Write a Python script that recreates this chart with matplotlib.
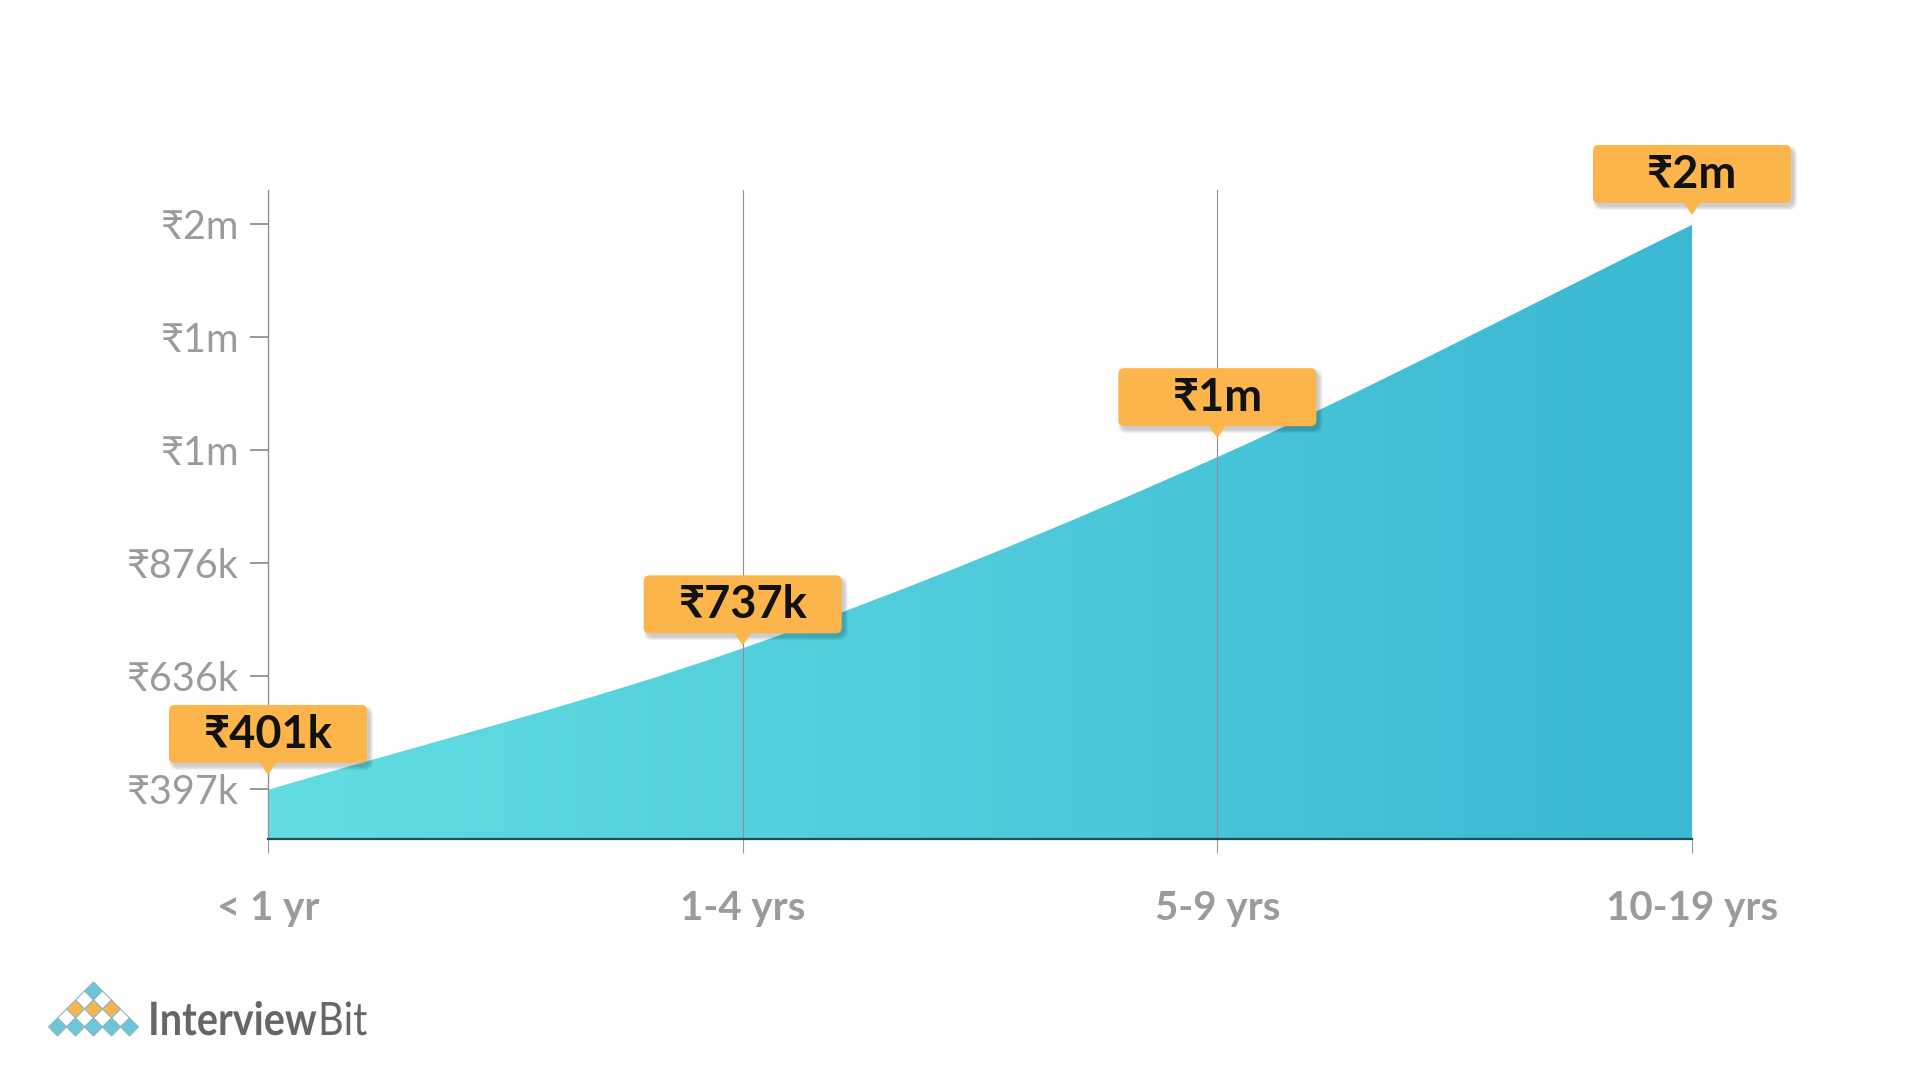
import numpy as np
import matplotlib
matplotlib.use("Agg")
import matplotlib.pyplot as plt
from matplotlib.path import Path
from matplotlib.patches import PathPatch, FancyBboxPatch, Polygon
from matplotlib.textpath import TextPath
from matplotlib.font_manager import FontProperties
import matplotlib.transforms as mtransforms
from matplotlib.colors import LinearSegmentedColormap

plt.rcParams['font.family'] = ['Lato', 'Noto Sans', 'DejaVu Sans']

# ---------------------------------------------------------
# data
# ---------------------------------------------------------
experience = ["< 1 yr", "1-4 yrs", "5-9 yrs", "10-19 yrs"]
salary = [395000, 695000, 1100000, 1592000]          # where the curve sits
salary_labels = ["₹401k", "₹737k", "₹1m", "₹2m"]      # text in the orange boxes
y_ticks = [397000, 636000, 876000, 1115000, 1355000, 1594000]
y_tick_labels = ["₹397k", "₹636k", "₹876k", "₹1m", "₹1m", "₹2m"]
y_range = (291000, 1666000)

# gap (px) between each point and the bottom of its box
box_gaps = [27, 15, 31, 22]

fill_left = "#62dde1"
fill_right = "#3bb8d3"
box_color = "#fbb54b"
grey = "#9b9b9b"

W, H = 1920, 1081
fig = plt.figure(figsize=(W / 100, H / 100), dpi=100)
fig.patch.set_facecolor("white")
ax = fig.add_axes([268 / W, 1 - 839 / H, (1692 - 268) / W, (839 - 190) / H])

x = np.arange(len(experience))
y = np.array(salary, dtype=float)
ax.set_xlim(0, len(experience) - 1)
ax.set_ylim(*y_range)

# smooth line through the points (cubic bezier segments)
slopes = np.zeros(len(x))
slopes[0] = (y[1] - y[0]) / (x[1] - x[0])
slopes[-1] = (y[-1] - y[-2]) / (x[-1] - x[-2])
for i in range(1, len(x) - 1):
    slopes[i] = (y[i + 1] - y[i - 1]) / (x[i + 1] - x[i - 1])

verts = [(x[0], y_range[0]), (x[0], y[0])]
codes = [Path.MOVETO, Path.LINETO]
for i in range(len(x) - 1):
    dx = (x[i + 1] - x[i]) / 3
    verts += [(x[i] + dx, y[i] + slopes[i] * dx),
              (x[i + 1] - dx, y[i + 1] - slopes[i + 1] * dx),
              (x[i + 1], y[i + 1])]
    codes += [Path.CURVE4] * 3
verts += [(x[-1], y_range[0]), (x[0], y_range[0])]
codes += [Path.LINETO, Path.CLOSEPOLY]
area = Path(verts, codes)

# horizontal gradient clipped to the area
cmap = LinearSegmentedColormap.from_list("grad", [fill_left, fill_right])
grad = np.linspace(0, 1, 256).reshape(1, -1)
im = ax.imshow(grad, cmap=cmap, aspect="auto", interpolation="bicubic",
               extent=[x[0], x[-1], y_range[0], y_range[1]], zorder=1)
clip = PathPatch(area, transform=ax.transData, facecolor="none", edgecolor="none")
ax.add_patch(clip)
im.set_clip_path(clip)

# axes styling
for s in ["top", "right"]:
    ax.spines[s].set_visible(False)
ax.spines["left"].set_color("#a8a8a8")
ax.spines["left"].set_linewidth(1.0)
ax.spines["bottom"].set_color("#1f4d58")
ax.spines["bottom"].set_linewidth(1.6)
ax.spines["bottom"].set_zorder(3)

ax.set_xticks(x)
ax.set_xticklabels(experience)
ax.set_yticks(y_ticks)
ax.set_yticklabels(y_tick_labels)
ax.tick_params(axis="x", direction="out", length=10, width=0.8, color="#999999",
               pad=27, labelsize=29, labelcolor=grey)
ax.tick_params(axis="y", direction="out", length=13, width=1.2, color="#888888",
               pad=8, labelsize=28.5, labelcolor=grey)
for lab in ax.get_xticklabels():
    lab.set_fontweight("bold")
ax.grid(axis="x", color="#8f8f8f", linewidth=0.8, zorder=2)
ax.set_axisbelow(False)

# orange value boxes
ident = mtransforms.IdentityTransform()
bw, bh = 198, 58
for xi, yi, lab, gap in zip(x, y, salary_labels, box_gaps):
    px, py = ax.transData.transform((xi, yi))
    bx, by = px - bw / 2, py + gap
    for k in range(4):
        fig.add_artist(FancyBboxPatch((bx + 3 - k, by - 4 - k), bw + 2 * k, bh + 2 * k,
                                      boxstyle="round,pad=0,rounding_size=8",
                                      transform=ident, facecolor="#000000",
                                      edgecolor="none", alpha=0.05))
    fig.add_artist(Polygon([(px - 9, by + 1), (px + 9, by + 1), (px, by - 12)],
                           closed=True, transform=ident, facecolor=box_color,
                           edgecolor="none"))
    fig.add_artist(FancyBboxPatch((bx, by), bw, bh,
                                  boxstyle="round,pad=0,rounding_size=6",
                                  transform=ident, facecolor=box_color,
                                  edgecolor="none"))
    fig.text(px, by + bh / 2 - 1, lab, transform=ident, ha="center", va="center",
             fontsize=32.5, fontweight="bold", color="#111111")

# InterviewBit logo, bottom left
diamond_rows = ["#6cc6d9", "#ffffff", "#f7b54c", "#ffffff", "#6cc6d9"]
h = 9
apex_x, apex_y = 93.5, H - 991
for r, col in enumerate(diamond_rows):
    for k in range(r + 1):
        cx = apex_x + (k - r / 2) * 2 * h
        cy = apex_y - r * h
        fig.add_artist(Polygon([(cx, cy + h), (cx + h, cy), (cx, cy - h), (cx - h, cy)],
                               closed=True, transform=ident, facecolor=col,
                               edgecolor="#8fb7c2", linewidth=0.8))

tp_bold = TextPath((0, 0), "Interview", size=46,
                   prop=FontProperties(family=["Lato", "DejaVu Sans"], weight="bold"))
tp_light = TextPath((0, 0), "Bit", size=46,
                    prop=FontProperties(family=["Lato", "DejaVu Sans"], weight="normal"))
wb = tp_bold.get_extents().x1
wl = tp_light.get_extents().x1
sx = (367 - 148) / (wb + wl + 2)
base_y = H - 1035
fig.add_artist(PathPatch(tp_bold, transform=mtransforms.Affine2D().scale(sx, 1).translate(148, base_y),
                         facecolor="#666666", edgecolor="none"))
fig.add_artist(PathPatch(tp_light, transform=mtransforms.Affine2D().scale(sx, 1).translate(148 + sx * (wb + 2), base_y),
                         facecolor="#666666", edgecolor="none"))

fig.savefig("out.png", dpi=100, facecolor="white")
